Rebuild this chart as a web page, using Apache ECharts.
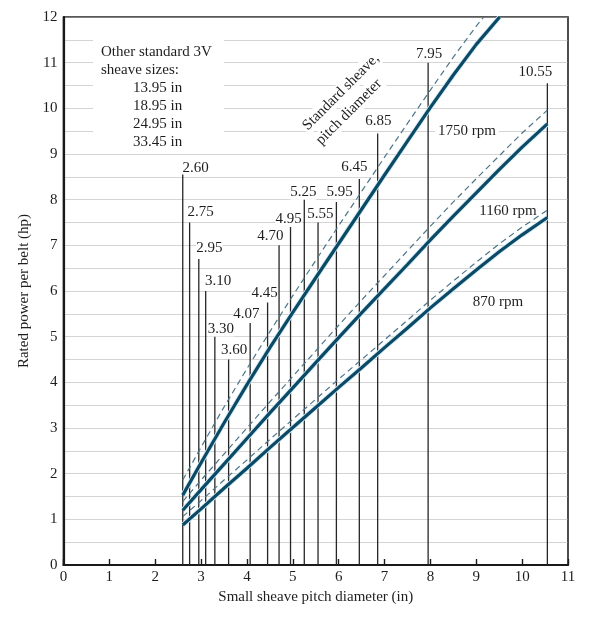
<!DOCTYPE html>
<html><head><meta charset="utf-8">
<script src="https://cdn.jsdelivr.net/npm/echarts@6/dist/echarts.min.js"></script>
<style>html,body{margin:0;padding:0;background:#fff}#c{width:598px;height:619px}</style>
</head><body><div id="c"></div>
<script>
// ---- data ----
const sheaveDiameters = [2.60, 2.75, 2.95, 3.10, 3.30, 3.60, 4.07, 4.45, 4.70, 4.95, 5.25, 5.55, 5.95, 6.45, 6.85, 7.95, 10.55];
const sheaveLineTops  = [8.55, 7.5, 6.7, 6.0, 5.0, 4.5, 5.3, 5.75, 7.0, 7.4, 8.0, 7.5, 7.95, 8.45, 9.45, 11.0, 10.55];
const otherSizes = ['13.95 in', '18.95 in', '24.95 in', '33.45 in'];

const xCurve = [2.6, 3.0, 3.5, 4.0, 4.5, 5.0, 5.5, 6.0, 6.5, 7.0, 7.5, 8.0, 8.5, 9.0, 9.5, 10.0, 10.55];
const rpm1160     = [1.20, 1.65, 2.21, 2.77, 3.33, 3.88, 4.43, 4.98, 5.52, 6.05, 6.58, 7.12, 7.64, 8.15, 8.66, 9.15, 9.66];
const rpm1160Dash = [1.39, 1.86, 2.43, 3.00, 3.57, 4.13, 4.69, 5.25, 5.80, 6.34, 6.88, 7.42, 7.95, 8.46, 8.96, 9.46, 9.96];
const rpm870      = [0.875, 1.23, 1.68, 2.12, 2.57, 3.01, 3.45, 3.89, 4.32, 4.76, 5.19, 5.63, 6.05, 6.46, 6.86, 7.23, 7.61];
const rpm870Dash  = [1.06, 1.41, 1.86, 2.30, 2.75, 3.19, 3.63, 4.07, 4.50, 4.93, 5.36, 5.80, 6.22, 6.63, 7.03, 7.40, 7.77];

const x1750     = [2.6, 3.0, 3.5, 4.0, 4.5, 5.0, 5.5, 6.0, 6.5, 7.0, 7.5, 8.0, 8.5, 9.0, 9.51];
const rpm1750   = [1.53, 2.24, 3.11, 3.95, 4.76, 5.53, 6.29, 7.04, 7.79, 8.54, 9.28, 10.02, 10.73, 11.40, 12.0];
const x1750Dash = [2.6, 3.0, 3.5, 4.0, 4.5, 5.0, 5.5, 6.0, 6.5, 7.0, 7.5, 8.0, 8.5, 9.0, 9.16];
const rpm1750Dash = [1.86, 2.58, 3.46, 4.30, 5.11, 5.90, 6.67, 7.43, 8.18, 8.93, 9.67, 10.40, 11.12, 11.80, 12.0];

const xTicks = [0,1,2,3,4,5,6,7,8,9,10,11];
const yTicks = [0,1,2,3,4,5,6,7,8,9,10,11,12];

// ---- style (label offsets in px relative to top of each line) ----
const labelDx = [13, 11, 10.5, 12.5, 6, 5.5, -3.7, -3, -8.7, -2, -1, 2.3, 3.3, -5, 0.7, 1, -12];
const labelDy = [6.7, 10, 10.7, 10, 7.7, 9.3, 9.4, 9, 9.3, 7.7, 7.3, 8.3, 10, 12.3, 12.6, 8.3, 11.6];

const FONT = '"Liberation Serif", "DejaVu Serif", serif';
const TXT = '#1e1e1e';
const SOLID = '#0c4966';
const HALO = '#d2ecf4';
const DASH = '#4d7689';

const zip = (xs, ys) => xs.map((x, i) => [x, ys[i]]);
const sheaveData = sheaveDiameters.map((d, i) => [d, sheaveLineTops[i]]);

function solidPair(name, data) {
  return [
    { name: name + ' halo', type: 'line', data, symbol: 'none', z: 5, silent: true,
      lineStyle: { color: HALO, width: 5 } },
    { name, type: 'line', data, symbol: 'none', z: 6,
      lineStyle: { color: SOLID, width: 3.2 } }
  ];
}
function dashLine(name, data) {
  return { name, type: 'line', data, symbol: 'none', z: 7,
    lineStyle: { color: DASH, width: 1.2, type: [6, 4] } };
}

const chart = echarts.init(document.getElementById('c'), null, { renderer: 'canvas' });
chart.setOption({
  animation: false,
  backgroundColor: '#fff',
  grid: { left: 63.5, right: 30, top: 17, bottom: 54, show: true, borderColor: '#222', borderWidth: 1.6, backgroundColor: 'transparent' },
  xAxis: {
    type: 'value', min: xTicks[0], max: xTicks[xTicks.length - 1], interval: 1,
    name: 'Small sheave pitch diameter (in)', nameLocation: 'middle', nameGap: 23,
    nameTextStyle: { fontFamily: FONT, fontSize: 15, color: TXT },
    axisLine: { lineStyle: { color: '#1a1a1a', width: 2.2 } },
    axisTick: { inside: true, length: 6, lineStyle: { color: '#1a1a1a', width: 1.4 } },
    axisLabel: { fontFamily: FONT, fontSize: 15, color: TXT, margin: 5 },
    splitLine: { show: false }
  },
  yAxis: {
    type: 'value', min: yTicks[0], max: yTicks[yTicks.length - 1], interval: 1,
    name: 'Rated power per belt (hp)', nameLocation: 'middle', nameGap: 29, nameRotate: 90,
    nameTextStyle: { fontFamily: FONT, fontSize: 15, color: TXT },
    axisLine: { lineStyle: { color: '#1a1a1a', width: 2.2 } },
    axisTick: { show: false },
    axisLabel: { fontFamily: FONT, fontSize: 15, color: TXT, margin: 6 },
    splitLine: { show: true, lineStyle: { color: '#a8a8a8', width: 1, type: [1, 1] } },
    minorTick: { show: false, splitNumber: 2 },
    minorSplitLine: { show: true, lineStyle: { color: '#a8a8a8', width: 1, type: [1, 1] } }
  },
  graphic: [
    { type: 'rect', z: 1, shape: { x: 93, y: 38, width: 131, height: 112 }, style: { fill: '#fff' } },
    { type: 'text', z: 2, x: 101, y: 42.6, style: { text: 'Other standard 3V\nsheave sizes:', font: '15px ' + FONT, lineHeight: 18.3, fill: TXT, verticalAlign: 'top' } },
    { type: 'text', z: 2, x: 133, y: 79.3, style: { text: otherSizes.join('\n'), font: '15px ' + FONT, lineHeight: 18, fill: TXT, verticalAlign: 'top' } },
    { type: 'text', z: 2, x: 341, y: 92, rotation: Math.PI / 4, style: { text: 'Standard sheave,', font: '15px ' + FONT, fill: TXT, align: 'center', verticalAlign: 'middle', backgroundColor: '#fff', padding: [1, 2] } },
    { type: 'text', z: 2, x: 349, y: 112, rotation: Math.PI / 4, style: { text: 'pitch diameter', font: '15px ' + FONT, fill: TXT, align: 'center', verticalAlign: 'middle', backgroundColor: '#fff', padding: [1, 2] } },
    { type: 'text', z: 2, x: 467, y: 131, style: { text: '1750 rpm', font: '15px ' + FONT, fill: TXT, align: 'center', verticalAlign: 'middle', backgroundColor: '#fff', padding: [1, 3] } },
    { type: 'text', z: 2, x: 508, y: 211, style: { text: '1160 rpm', font: '15px ' + FONT, fill: TXT, align: 'center', verticalAlign: 'middle', backgroundColor: '#fff', padding: [1, 3] } },
    { type: 'text', z: 2, x: 498, y: 301.7, style: { text: '870 rpm', font: '15px ' + FONT, fill: TXT, align: 'center', verticalAlign: 'middle', backgroundColor: '#fff', padding: [1, 3] } }
  ],
  series: [
    { name: 'sheave labels', type: 'custom', z: 2, clip: false, silent: true, data: sheaveData,
      renderItem: function (params, api) {
        const i = params.dataIndex;
        const p = api.coord([api.value(0), api.value(1)]);
        return { type: 'text', x: p[0] + labelDx[i], y: p[1] - labelDy[i],
          style: { text: sheaveDiameters[i].toFixed(2), font: '15px ' + FONT, fill: TXT,
                   align: 'center', verticalAlign: 'middle', backgroundColor: '#fff', padding: [0, 0] } };
      } },
    { name: 'sheave lines', type: 'custom', z: 3, clip: false, silent: true, data: sheaveData,
      renderItem: function (params, api) {
        const p0 = api.coord([api.value(0), 0]);
        const p1 = api.coord([api.value(0), api.value(1)]);
        return { type: 'line', shape: { x1: p0[0], y1: p0[1], x2: p1[0], y2: p1[1] },
          style: { stroke: '#262626', lineWidth: 1.3 } };
      } },
    ...solidPair('1750 rpm', zip(x1750, rpm1750)),
    ...solidPair('1160 rpm', zip(xCurve, rpm1160)),
    ...solidPair('870 rpm', zip(xCurve, rpm870)),
    dashLine('1750 rpm ref', zip(x1750Dash, rpm1750Dash)),
    dashLine('1160 rpm ref', zip(xCurve, rpm1160Dash)),
    dashLine('870 rpm ref', zip(xCurve, rpm870Dash))
  ]
});
</script>
</body></html>
